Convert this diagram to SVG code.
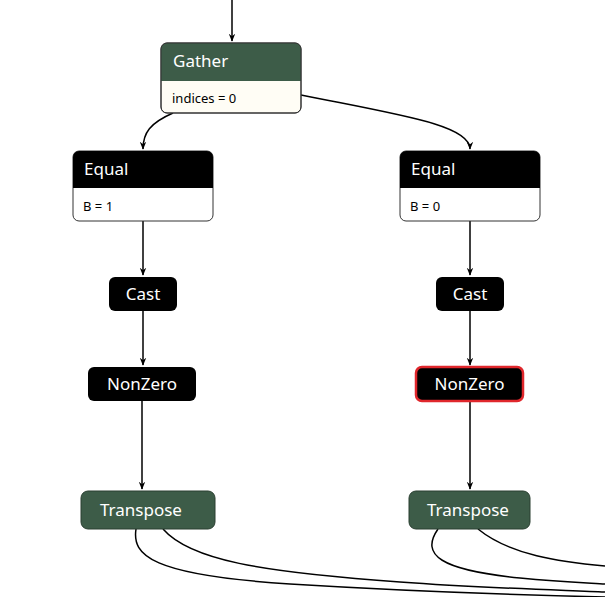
<svg xmlns="http://www.w3.org/2000/svg" width="605" height="597" viewBox="0 0 605 597">
<style>
text{font-family:"Noto Sans","DejaVu Sans",sans-serif;}
.t{fill:#fff;font-size:17px}
.a{fill:#000;font-size:13px}
.e{fill:none;stroke:#000;stroke-width:1.5}
</style>
<defs><marker id="ar" viewBox="0 0 10 10" refX="9" refY="5" markerWidth="8" markerHeight="8" orient="auto" markerUnits="userSpaceOnUse"><path d="M0,1L10,5L0,9L3,5Z" fill="#000"/></marker></defs>
<rect width="605" height="597" fill="#fff"/>
<g id="edges">
<path class="e" d="M232,0V41" marker-end="url(#ar)"/>
<path class="e" d="M173,113C150,123 143,133 143,149" marker-end="url(#ar)"/>
<path class="e" d="M301,95C400,115 470,125 470,149" marker-end="url(#ar)"/>
<path class="e" d="M143,221V275" marker-end="url(#ar)"/>
<path class="e" d="M470,221V275" marker-end="url(#ar)"/>
<path class="e" d="M143,311V365" marker-end="url(#ar)"/>
<path class="e" d="M470,311V365" marker-end="url(#ar)"/>
<path class="e" d="M142,401V489" marker-end="url(#ar)"/>
<path class="e" d="M470,401V489" marker-end="url(#ar)"/>
<path class="e" d="M136,529C132,555 150,575 290,584C420,592 520,595 605,597"/>
<path class="e" d="M163,529C190,560 260,572 400,582C480,588 560,590 605,592"/>
<path class="e" d="M438,529C420,555 440,570 520,578C560,582 590,583 605,584"/>
<path class="e" d="M478,529C510,555 560,562 605,566"/>
</g>
<g id="gather">
<rect x="161" y="43" width="140" height="70" rx="6" fill="#fffdf5" stroke="#333"/>
<path d="M161,81V49a6,6 0 0 1 6-6H295a6,6 0 0 1 6,6V81Z" fill="#3d5c48"/>
<rect x="161" y="43" width="140" height="70" rx="6" fill="none" stroke="#333"/>
<text class="t" x="173" y="67">Gather</text>
<text class="a" x="172" y="103">indices = 0</text>
</g>
<g id="equal1">
<rect x="73" y="151" width="140" height="70" rx="6" fill="#fff" stroke="#333"/>
<path d="M73,188V157a6,6 0 0 1 6-6H207a6,6 0 0 1 6,6V188Z" fill="#000"/>
<text class="t" x="84" y="175">Equal</text>
<text class="a" x="83" y="211">B = 1</text>
</g>
<g id="equal2">
<rect x="400" y="151" width="140" height="70" rx="6" fill="#fff" stroke="#333"/>
<path d="M400,188V157a6,6 0 0 1 6-6H534a6,6 0 0 1 6,6V188Z" fill="#000"/>
<text class="t" x="411" y="175">Equal</text>
<text class="a" x="410" y="211">B = 0</text>
</g>
<g id="cast1"><rect x="109" y="277" width="68" height="34" rx="6" fill="#000"/><text class="t" x="143" y="300" text-anchor="middle">Cast</text></g>
<g id="cast2"><rect x="436" y="277" width="68" height="34" rx="6" fill="#000"/><text class="t" x="470" y="300" text-anchor="middle">Cast</text></g>
<g id="nonzero1"><rect x="88" y="367" width="108" height="34" rx="6" fill="#000"/><text class="t" x="142" y="390" text-anchor="middle">NonZero</text></g>
<g id="nonzero2"><rect x="416" y="367" width="107" height="34" rx="6" fill="#000" stroke="#e0272c" stroke-width="2.5"/><text class="t" x="469.5" y="390" text-anchor="middle">NonZero</text></g>
<g id="transpose1"><rect x="81" y="491" width="134" height="38" rx="7" fill="#3d5c48" stroke="#2a3f31"/><text class="t" x="141" y="516" text-anchor="middle">Transpose</text></g>
<g id="transpose2"><rect x="409" y="491" width="121" height="38" rx="7" fill="#3d5c48" stroke="#2a3f31"/><text class="t" x="468" y="516" text-anchor="middle">Transpose</text></g>
</svg>
